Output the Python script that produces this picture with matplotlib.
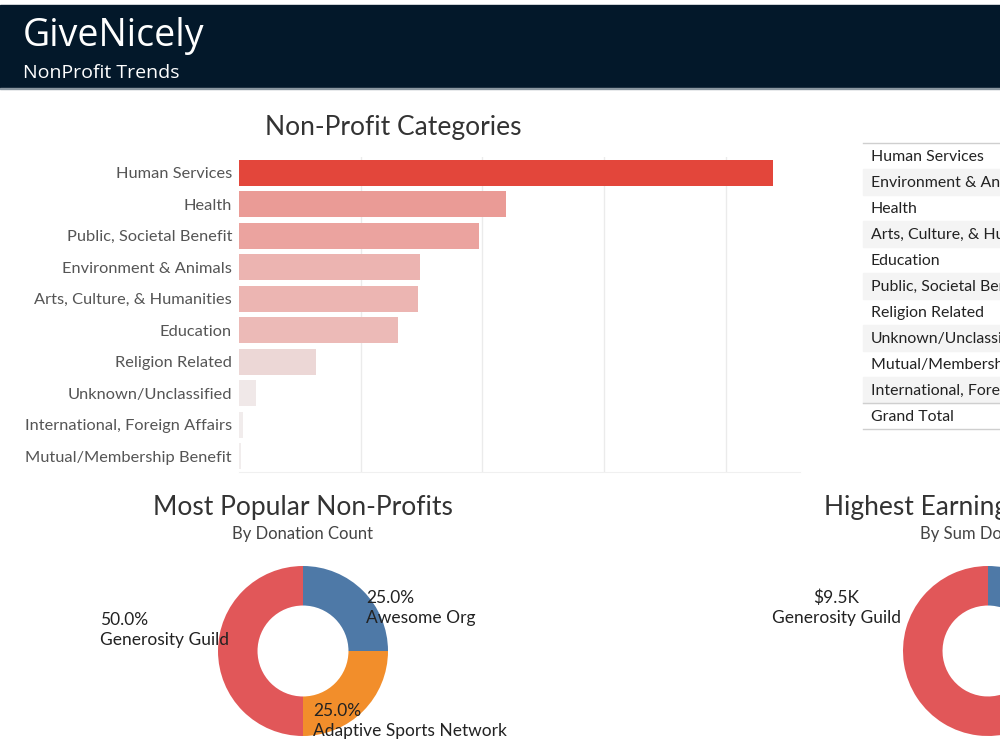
import matplotlib
matplotlib.use("Agg")
import matplotlib.pyplot as plt
from matplotlib.patches import Rectangle
from matplotlib.colors import LinearSegmentedColormap

plt.rcParams['font.family'] = ['Lato', 'DejaVu Sans']

# bar chart data (gridlines at 10, 20, 30, 40)
categories = ["Human Services", "Health", "Public, Societal Benefit",
              "Environment & Animals", "Arts, Culture, & Humanities",
              "Education", "Religion Related", "Unknown/Unclassified",
              "International, Foreign Affairs", "Mutual/Membership Benefit"]
cat_values = [43.9, 21.9, 19.7, 14.9, 14.7, 13.1, 6.3, 1.4, 0.35, 0.15]

# table on the right (sorted differently)
table_rows = ["Human Services", "Environment & Animals", "Health",
              "Arts, Culture, & Humanities", "Education", "Public, Societal Benefit",
              "Religion Related", "Unknown/Unclassified", "Mutual/Membership Benefit",
              "International, Foreign Affairs", "Grand Total"]

# donuts
orgs = ["Awesome Org", "Adaptive Sports Network", "Generosity Guild"]
donation_counts = [1, 1, 2]
donation_sums = [4.0, 3.8, 9.5]  # $K
org_colors = ["#4e79a7", "#f28e2b", "#e15759"]

W, H = 1000, 750
fig = plt.figure(figsize=(10, 7.5), dpi=100)


def px_axes(x0, y0, x1, y1):
    return fig.add_axes([x0 / W, 1 - y1 / H, (x1 - x0) / W, (y1 - y0) / H])


def fx(x):
    return x / W


def fy(y):
    return 1 - y / H


# header band
fig.patches.append(Rectangle((0, fy(88)), 1, 83 / H, transform=fig.transFigure,
                             color="#03182a", zorder=0))
fig.patches.append(Rectangle((0, fy(89)), 1, 1.5 / H, transform=fig.transFigure,
                             color="#8a96a0", zorder=0))
fig.text(fx(23), fy(36), "GiveNicely", color="white", fontsize=27,
         family=['Open Sans', 'DejaVu Sans'], va="center", ha="left")
fig.text(fx(23), fy(73), "NonProfit Trends", color="white", fontsize=14,
         family=['Open Sans', 'DejaVu Sans'], va="center", ha="left")

# bar chart
cmap = LinearSegmentedColormap.from_list(
    "reds", [(0, "#f1eded"), (0.15, "#ecd6d5"), (0.3, "#ecbab7"),
             (0.5, "#ea9b96"), (1.0, "#e3463b")])
vmax = max(cat_values)
bar_colors = [cmap(v / vmax) for v in cat_values]

ax = px_axes(239, 157, 800, 472)
ax.barh(range(len(categories)), cat_values, height=0.82, color=bar_colors,
        zorder=2)
ax.set_ylim(len(categories) - 0.5, -0.5)
ax.set_xlim(0, 46.1)
ax.set_xticks([10, 20, 30, 40])
ax.tick_params(axis="x", length=0, labelbottom=False)
ax.grid(axis="x", color="#ebebeb", lw=1, zorder=0)
ax.set_yticks(range(len(categories)))
ax.set_yticklabels(categories)
ax.tick_params(axis="y", length=0, pad=5, labelsize=11.8, labelcolor="#555555")
for s in ["top", "right", "left"]:
    ax.spines[s].set_visible(False)
ax.spines["bottom"].set_color("#f0f0f0")
fig.text(fx(393), fy(127), "Non-Profit Categories", fontsize=19,
         color="#333333", ha="center", va="center")

# table
tab = px_axes(863, 143, 1000, 430)
tab.set_xlim(863, 1000)
tab.set_ylim(430, 143)
tab.axis("off")
row_h = 26
for i, name in enumerate(table_rows):
    top = 143 + i * row_h
    if i % 2 == 1 and i < 10:
        tab.add_patch(Rectangle((863, top), 200, row_h, color="#f4f4f4",
                                clip_on=False, zorder=0))
    tab.text(871, top + row_h / 2 + 1, name, fontsize=11.4, color="#222222",
             va="center", ha="left", clip_on=False)
for yl in [143, 143 + 10 * row_h, 143 + 11 * row_h]:
    tab.plot([863, 1063], [yl, yl], color="#cfcfcf", lw=1, clip_on=False)


# donuts
def donut(cx, cy, values, title, subtitle):
    R = 85
    a = px_axes(cx - R, cy - R, cx + R, cy + R)
    a.pie(values, colors=org_colors, startangle=90, counterclock=False,
          radius=1, wedgeprops=dict(width=0.465, edgecolor="none"))
    a.set_xlim(-1, 1)
    a.set_ylim(-1, 1)
    a.set_aspect("equal")
    fig.text(fx(cx), fy(507), title, fontsize=19, color="#333333",
             ha="center", va="center")
    fig.text(fx(cx), fy(534), subtitle, fontsize=12, color="#444444",
             ha="center", va="center")


donut(303, 651, donation_counts, "Most Popular Non-Profits", "By Donation Count")
donut(988, 651, donation_sums, "Highest Earning Non-Profits", "By Sum Donations")

total = sum(donation_counts)
pct = [f"{100 * v / total:.1f}%" for v in donation_counts]
lab_kw = dict(fontsize=12.5, color="#222222", va="center", linespacing=1.3)
fig.text(fx(366), fy(608), f"{pct[0]}\n{orgs[0]}", ha="left", **lab_kw)
fig.text(fx(313), fy(721), f"{pct[1]}\n{orgs[1]}", ha="left", **lab_kw)
fig.text(fx(100), fy(630), f"{pct[2]}\n{orgs[2]}", ha="left", **lab_kw)
fig.text(fx(836), fy(608), f"${donation_sums[2]:.1f}K\n{orgs[2]}",
         ha="center", multialignment="center", **lab_kw)

fig.savefig("out.png", dpi=100, facecolor="white")
